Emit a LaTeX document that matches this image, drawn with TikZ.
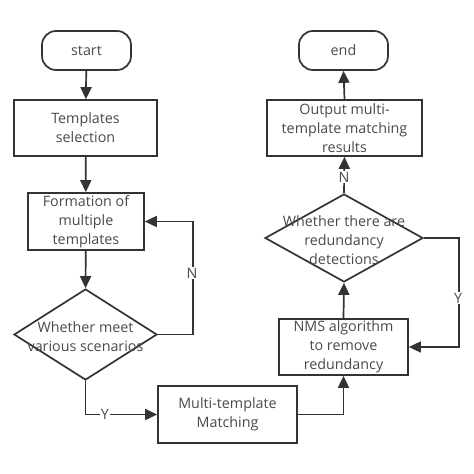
\documentclass[tikz,border=0pt]{standalone}
\usepackage{fontspec}
\setmainfont{Open Sans}
\usetikzlibrary{shapes.geometric,arrows.meta}
\definecolor{ln}{HTML}{333333}
\definecolor{tx}{HTML}{4A4A4A}
\begin{document}
\begin{tikzpicture}[x=1pt,y=-1pt,
  base/.style={draw=ln, line width=1.7pt, inner sep=0pt, align=center, text=tx, font=\fontsize{14.3}{19}\selectfont},
  term/.style={base, rectangle, rounded corners=14pt, minimum width=89pt, minimum height=39pt},
  proc/.style={base, rectangle},
  dec/.style={draw=ln, line width=1.7pt, diamond, inner sep=0pt},
  txt/.style={inner sep=0pt, align=center, text=tx, font=\fontsize{14.3}{19}\selectfont},
  lab/.style={fill=white, inner sep=1pt, text=tx, font=\fontsize{14.3}{16}\selectfont},
  arr/.style={draw=ln, line width=1.7pt, -{Triangle[length=12pt,width=11pt]}},
  ln/.style={draw=ln, line width=1.7pt}]
\fill[white] (0,0) rectangle (474,474);
\useasboundingbox (0,0) rectangle (474,474);
\node[term] (start) at (86.5,50.5) {start};
\node[proc, minimum width=143pt, minimum height=56pt] (sel) at (85.5,128) {Templates\\selection};
\node[proc, minimum width=116pt, minimum height=57pt] (form) at (86,221.5) {Formation of\\multiple\\templates};
\node[dec, minimum width=143pt, minimum height=91pt] (d1) at (85.5,334.5) {};
\node[txt] (d1t) at (85.5,337) {Whether meet\\various scenarios};
\node[proc, minimum width=139pt, minimum height=57pt] (mt) at (227.5,414.5) {Multi-template\\Matching};
\node[proc, minimum width=129pt, minimum height=56pt] (nms) at (343.5,347) {NMS algorithm\\to remove\\redundancy};
\node[dec, minimum width=158pt, minimum height=88pt] (d2) at (344,238) {};
\node[txt] (d2t) at (344,240) {Whether there are\\redundancy\\detections};
\node[proc, minimum width=155pt, minimum height=56pt] (out) at (344.5,128) {Output multi-\\template matching\\results};
\node[term] (end) at (343.5,50.5) {end};
\draw[arr] (start) -- (sel);
\draw[arr] (sel) -- (form);
\draw[arr] (form) -- (d1.north);
\draw[arr] (d1.east) -- ++(35,0) coordinate (c1) |- (form.east);
\node[lab] (n1) at (192,273) {N};
\draw[arr] (d1.south) |- (mt.west);
\node[lab] (y1) at (105,414.5) {Y};
\draw[arr] (mt.east) -| (nms.south);
\draw[arr] (nms.north) -- (d2.south);
\draw[arr] (d2.east) -- ++(35,0) coordinate (c2) |- (nms.east);
\node[lab] (y2) at (458,298) {Y};
\draw[arr] (d2.north) -- (out.south);
\node[lab] (n2) at (344,177) {N};
\draw[arr] (out.north) -- (end.south);
\end{tikzpicture}
\end{document}
